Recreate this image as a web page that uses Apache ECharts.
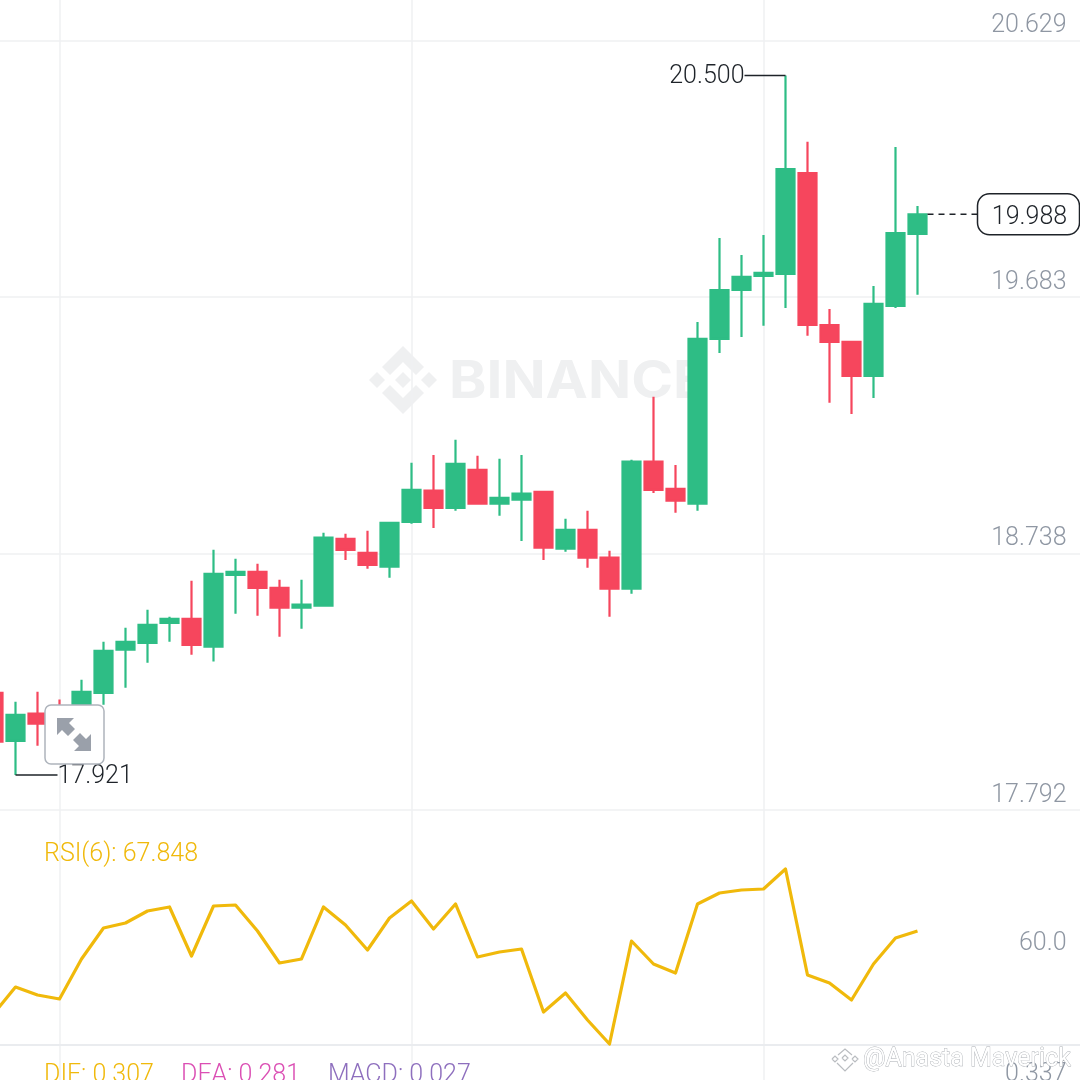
<!DOCTYPE html>
<html><head><meta charset="utf-8">
<style>html,body{margin:0;padding:0;background:#fff}#c{width:1080px;height:1080px}</style>
<script src="https://cdn.jsdelivr.net/npm/echarts@6/dist/echarts.min.js"></script>
</head><body><div id="c"></div>
<script>
const opens = [18.224,18.047,18.147,18.140,18.143,18.224,18.383,18.408,18.482,18.497,18.394,18.659,18.670,18.611,18.538,18.545,18.792,18.740,18.689,18.854,18.969,18.906,19.046,18.921,18.936,18.965,18.755,18.825,18.722,18.608,19.076,18.976,18.921,19.529,19.709,19.761,19.768,20.140,19.580,19.518,19.392,19.650,19.916];
const closes = [18.044,18.143,18.110,18.110,18.228,18.379,18.412,18.475,18.497,18.401,18.663,18.670,18.611,18.538,18.549,18.796,18.751,18.696,18.851,18.972,18.906,19.068,18.921,18.943,18.958,18.759,18.825,18.722,18.608,19.076,18.972,18.932,19.529,19.709,19.757,19.772,20.155,19.580,19.518,19.392,19.658,19.919,19.988];
const lows = [18.029,17.921,18.029,18.070,18.117,18.180,18.243,18.335,18.412,18.364,18.339,18.515,18.508,18.431,18.460,18.541,18.714,18.681,18.648,18.847,18.832,18.895,18.917,18.877,18.784,18.714,18.744,18.685,18.504,18.589,18.961,18.888,18.895,19.477,19.536,19.577,19.643,19.540,19.293,19.252,19.311,19.643,19.691];
const highs = [18.243,18.191,18.228,18.199,18.272,18.412,18.464,18.530,18.504,18.637,18.751,18.718,18.700,18.641,18.641,18.814,18.810,18.821,18.854,19.072,19.101,19.157,19.098,19.087,19.101,18.969,18.866,18.895,18.748,19.083,19.315,19.064,19.591,19.901,19.838,19.912,20.500,20.255,19.639,19.521,19.724,20.236,20.019];
const rsiValues = [43.72,51.57,49.24,48.08,59.71,68.72,70.17,73.66,74.83,60.58,75.12,75.41,67.85,58.55,59.71,74.83,69.59,62.33,71.63,76.57,68.43,75.70,60.29,61.74,62.62,44.30,49.83,41.98,35.00,64.94,58.26,55.64,75.70,78.90,79.77,80.06,85.87,55.06,52.73,47.79,58.26,65.81,67.848];
const priceTicks = [17.792,18.738,19.683,20.629];
const rsiTicks = [60];
const macdTicks = [0.337];
const verticalGridSlots = [3,19,35];
const slotCount = 50;
const categories = Array.from({length:slotCount},(_,i)=>String(i));
const highMark = [36,20.5];
const lowMark = [1,17.921];
const lastMark = [42,19.988];

const DARK='#1E2329', GRAY='#8F97A3', LINE='#EFF0F2', GREEN='#2EBD85', RED='#F6465D', YEL='#F0B90B';
const FONT='300 25px Roboto';
const candleData = opens.map((o,i)=>[o,closes[i],lows[i],highs[i]]);

function xAxis(idx){return {type:'category',gridIndex:idx,data:categories,boundaryGap:true,
  axisLine:{show:idx===1,lineStyle:{color:'#EAECEF',width:2}},axisTick:{show:false},axisLabel:{show:false},
  splitLine:{show:true,alignWithLabel:true,interval:i=>verticalGridSlots.includes(i),lineStyle:{color:LINE,width:1.5}}};}
function yLabel(fmt){return {inside:true,margin:16,fontFamily:'Roboto',fontWeight:300,fontSize:25,color:GRAY,
  verticalAlign:'bottom',lineHeight:29,formatter:fmt};}

const poly=(pts,fill,z)=>({type:'polygon',z:z,silent:true,shape:{points:pts},style:{fill:fill}});
const txt=(t,x,y,fill,z,extra)=>({type:'text',z:z||5,silent:true,style:Object.assign({text:t,x:x,y:y,fill:fill,font:FONT,textVerticalAlign:'middle'},extra||{})});
const tr=(cx,cy,pts)=>pts.map(p=>[cx+p[0],cy+p[1]]);
const WM='#EFF0F1';
const chev=(pts)=>({type:'polyline',z:30,silent:true,shape:{points:pts},style:{stroke:'#B9BCC0',lineWidth:1.2,fill:null}});

const graphic=[
  poly(tr(403,380,[[0,-8],[8,0],[0,8],[-8,0]]),WM,0),
  poly(tr(403,380,[[-34,0],[-26,-8],[-18,0],[-26,8]]),WM,0),
  poly(tr(403,380,[[34,0],[26,-8],[18,0],[26,8]]),WM,0),
  poly(tr(403,380,[[0,-34],[21,-13],[13,-5],[0,-18],[-13,-5],[-21,-13]]),WM,0),
  poly(tr(403,380,[[0,34],[21,13],[13,5],[0,18],[-13,5],[-21,13]]),WM,0),
  {type:'text',z:0,silent:true,originX:449,originY:380,scaleX:1.09,style:{text:'BINANCE',x:449,y:382,fill:WM,font:'700 52px Inter',textVerticalAlign:'middle'}},
  txt('RSI(6): 67.848',44,855,YEL),
  txt('DIF: 0.307',44,1076,YEL),
  txt('DEA: 0.281',181,1076,'#DB4FB4'),
  txt('MACD: 0.027',328,1076,'#8E6FBE'),
  {type:'rect',z:40,silent:true,shape:{x:45,y:705,width:59,height:59,r:6},style:{fill:'#fff',stroke:'#AEB4BC',lineWidth:1.5}},
  poly([[57,718],[74,718],[69,723],[75,729],[68,736],[62,730],[57,735]],'#9AA0AA',41),
  poly([[91,751],[74,751],[79,746],[73,740],[80,733],[86,739],[91,734]],'#9AA0AA',41),
  chev([[838,1055],[845,1049],[852,1055]]),
  chev([[842,1058],[845,1061],[848,1058],[845,1055],[842,1058]]),
  chev([[832,1059],[835,1056],[838,1059],[835,1062],[832,1059]]),
  chev([[852,1059],[855,1056],[858,1059],[855,1062],[852,1059]]),
  chev([[837,1063],[845,1071],[853,1063]]),
  {type:'text',z:30,silent:true,style:{text:'@Anasta Maverick',x:863,y:1060,fill:'#fff',stroke:'#A9ADB2',lineWidth:0.8,font:'400 25px Roboto',textVerticalAlign:'middle'}}
];

function annotate(params,api){
  const kind=api.value(2), p=api.coord([api.value(0),api.value(1)]);
  const ink={stroke:DARK,lineWidth:1.5};
  const text=(x,y,align)=>({type:'text',style:{text:api.value(1).toFixed(3),x:x,y:y,fill:DARK,font:FONT,textAlign:align,textVerticalAlign:'middle'}});
  if(kind===0) return {type:'group',children:[
    {type:'line',shape:{x1:p[0],y1:p[1],x2:p[0]-41,y2:p[1]},style:ink},text(p[0]-41,p[1]+1,'right')]};
  if(kind===1) return {type:'group',children:[
    {type:'line',shape:{x1:p[0],y1:p[1],x2:p[0]+42,y2:p[1]},style:ink},text(p[0]+42,p[1]+2,'left')]};
  return {type:'group',children:[
    {type:'line',shape:{x1:p[0]+10,y1:p[1],x2:p[0]+60,y2:p[1]},style:{stroke:DARK,lineWidth:1.5,lineDash:[6,5]}},
    {type:'rect',shape:{x:p[0]+60,y:p[1]-20.5,width:102,height:41,r:12},style:{fill:'#fff',stroke:DARK,lineWidth:1.5}},
    text(p[0]+112,p[1]+3,'center')]};
}

const chart=echarts.init(document.getElementById('c'),null,{renderer:'canvas'});
chart.setOption({
  animation:false,backgroundColor:'#fff',
  grid:[
    {left:-17.5,width:1100,top:0,height:810,outerBoundsMode:'none'},
    {left:-17.5,width:1100,top:810,height:235,outerBoundsMode:'none'},
    {left:-17.5,width:1100,top:1045,height:55,outerBoundsMode:'none'}
  ],
  xAxis:[xAxis(0),xAxis(1),xAxis(2)],
  yAxis:[
    {type:'value',gridIndex:0,position:'right',scale:true,min:17.792,max:20.778,
     axisLine:{show:false},axisTick:{show:false,customValues:priceTicks},
     axisLabel:Object.assign(yLabel(v=>v.toFixed(3)),{customValues:priceTicks}),
     splitLine:{show:true,lineStyle:{color:LINE,width:1.5}}},
    {type:'value',gridIndex:1,position:'right',min:34.71,max:103.02,
     axisLine:{show:false},axisTick:{show:false,customValues:rsiTicks},
     axisLabel:Object.assign(yLabel(v=>v.toFixed(1)),{customValues:rsiTicks}),splitLine:{show:false}},
    {type:'value',gridIndex:2,position:'right',min:0.317,max:0.417,
     axisLine:{show:false},axisTick:{show:false,customValues:macdTicks},
     axisLabel:Object.assign(yLabel(v=>v.toFixed(3)),{customValues:macdTicks}),splitLine:{show:false}}
  ],
  series:[
    {type:'candlestick',xAxisIndex:0,yAxisIndex:0,data:candleData,barWidth:17.8,z:3,
     itemStyle:{color:GREEN,borderColor:GREEN,color0:RED,borderColor0:RED,borderWidth:2.2}},
    {type:'line',xAxisIndex:1,yAxisIndex:1,data:rsiValues,showSymbol:false,smooth:false,clip:false,z:3,
     lineStyle:{color:YEL,width:3.2,join:'round'}},
    {type:'custom',xAxisIndex:0,yAxisIndex:0,z:6,clip:false,silent:true,
     data:[[highMark[0],highMark[1],0],[lowMark[0],lowMark[1],1],[lastMark[0],lastMark[1],2]],
     renderItem:annotate}
  ],
  graphic:graphic
});
</script></body></html>
